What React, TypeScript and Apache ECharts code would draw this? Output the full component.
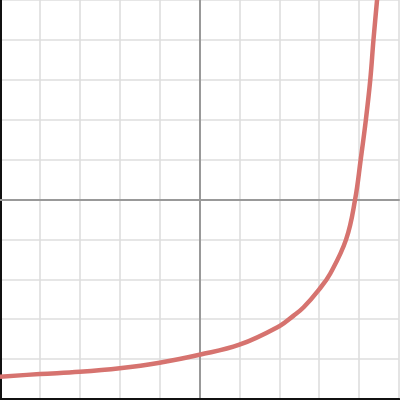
import React, { useEffect, useRef } from 'react';
import * as echarts from 'echarts';

// points, in grid units
const xValues = [-5, -4, -3, -2, -1, 0, 1, 2, 2.36, 2.61, 3, 3.275, 3.675, 3.9, 4.04, 4.17, 4.28, 4.36, 4.45, 4.525];
const yValues = [-4.44, -4.375, -4.32, -4.23, -4.09, -3.89, -3.64, -3.175, -2.91, -2.7, -2.25, -1.86, -1.0, 0, 1, 2, 3, 4, 5, 5.85];

const axisMin = -5;
const axisMax = 5;
const step = 1;

export default function App() {
    const chartRef = useRef<HTMLDivElement>(null);

    useEffect(() => {
        const chart = echarts.init(chartRef.current!, undefined, { renderer: 'svg' });

        const points = xValues.map((x, i) => [x, yValues[i]]);

        const mainAxis = {
            type: 'value',
            min: axisMin,
            max: axisMax,
            interval: step,
            axisLine: { show: true, onZero: true, lineStyle: { color: '#999999', width: 2 } },
            axisTick: { show: false },
            axisLabel: { show: false },
            splitLine: { show: true, lineStyle: { color: '#dedede', width: 1.6 } },
        };

        const frameAxis = {
            type: 'value',
            min: axisMin,
            max: axisMax,
            interval: step,
            axisLine: { show: true, onZero: false, lineStyle: { color: '#111111', width: 3 } },
            axisTick: { show: false },
            axisLabel: { show: false },
            splitLine: { show: false },
        };

        chart.setOption({
            animation: false,
            grid: { left: -1, top: -1, width: 400, height: 400 },
            xAxis: [
                { ...mainAxis, position: 'bottom' },
                { ...frameAxis, position: 'bottom' },
            ],
            yAxis: [
                { ...mainAxis, position: 'left' },
                { ...frameAxis, position: 'left' },
            ],
            series: [
                {
                    type: 'line',
                    data: points,
                    xAxisIndex: 0,
                    yAxisIndex: 0,
                    symbol: 'none',
                    smooth: 0.4,
                    clip: true,
                    lineStyle: { color: '#d6736f', width: 4.5 },
                },
            ],
        });

        return () => {
            chart.dispose();
        };
    }, []);

    return (
        <div
            ref={chartRef}
            style={{ position: 'fixed', left: 0, top: 0, width: 400, height: 400 }}
        />
    );
}
